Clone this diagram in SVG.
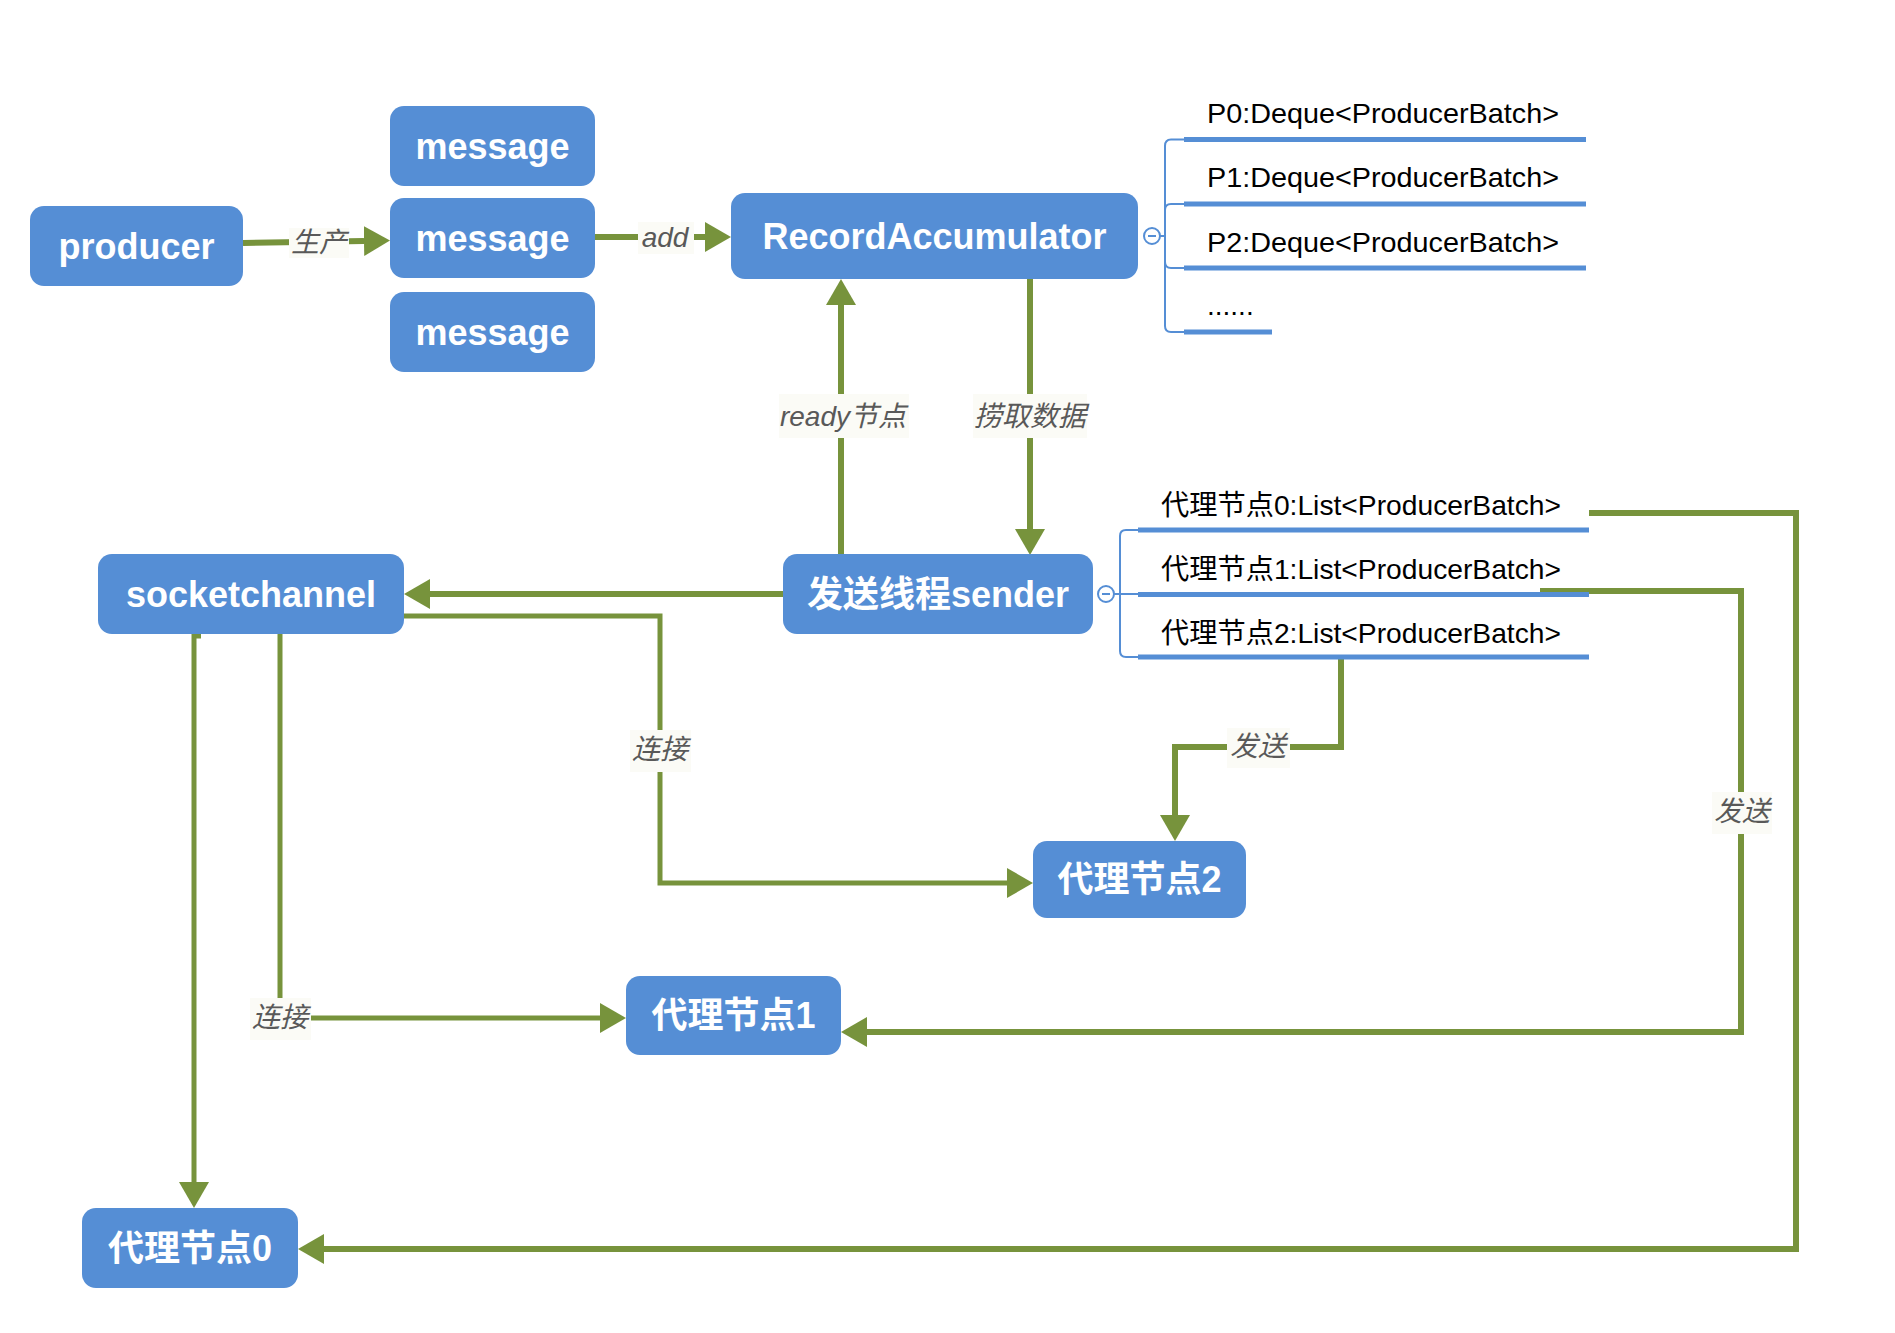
<svg xmlns="http://www.w3.org/2000/svg" width="1895" height="1333" viewBox="0 0 1895 1333">
<defs>
<style>
.node rect{fill:#558ED5;}
.node text{fill:#fff;font-family:"Liberation Sans","Noto Sans CJK SC",sans-serif;font-weight:bold;font-size:36px;text-anchor:middle;}
.conn{fill:none;stroke:#77933C;stroke-width:6;}
.thin{stroke-width:5;}
.lbl{fill:#595959;font-family:"Liberation Sans","Noto Sans CJK SC",sans-serif;font-style:italic;font-size:28px;text-anchor:middle;}
.lblbg{fill:#fbfbf6;}
.item{fill:#000;font-family:"Liberation Sans","Noto Sans CJK SC",sans-serif;font-size:28px;}
.uline{stroke:#558ED5;stroke-width:5;fill:none;}
.br{stroke:#558ED5;stroke-width:2;fill:none;}
.tog{fill:#fff;stroke:#558ED5;stroke-width:2;}
</style>
<marker id="arr" markerUnits="userSpaceOnUse" markerWidth="28" markerHeight="32" viewBox="0 -16 28 32" refX="0" refY="0" orient="auto">
<path d="M0,-15 L26,0 L0,15 z" fill="#77933C"/>
</marker>
</defs>
<rect width="1895" height="1333" fill="#fff"/>

<g id="connectors">
<path class="conn" d="M243,243 L364,241" marker-end="url(#arr)"/>
<path class="conn" d="M595,237 L705,237" marker-end="url(#arr)"/>
<path class="conn" d="M841,554 L841,305" marker-end="url(#arr)"/>
<path class="conn" d="M1030,279 L1030,529" marker-end="url(#arr)"/>
<path class="conn" d="M783,594 L430,594" marker-end="url(#arr)"/>
<path class="conn thin" d="M404,616 H660 V883 H1007" marker-end="url(#arr)"/>
<path class="conn thin" d="M280,634 V1018 H600" marker-end="url(#arr)"/>
<path class="conn thin" d="M201,636 H194 V1182" marker-end="url(#arr)"/>
<path class="conn" d="M1341,658 V747 H1175 V815" marker-end="url(#arr)"/>
<path class="conn" d="M1540,591 H1741 V1032 H867" marker-end="url(#arr)"/>
<path class="conn" d="M1589,513 H1796 V1249 H324" marker-end="url(#arr)"/>

<rect class="lblbg" x="289" y="228" width="60" height="30"/>
<text class="lbl" x="319" y="252">生产</text>
<rect class="lblbg" x="638" y="222" width="56" height="32"/>
<text class="lbl" x="665" y="247">add</text>
<rect class="lblbg" x="779" y="394" width="130" height="44"/>
<text class="lbl" x="843" y="426">ready节点</text>
<rect class="lblbg" x="973" y="394" width="114" height="44"/>
<text class="lbl" x="1030" y="426">捞取数据</text>
<rect class="lblbg" x="630" y="730" width="61" height="42"/>
<text class="lbl" x="660" y="759">连接</text>
<rect class="lblbg" x="250" y="998" width="61" height="42"/>
<text class="lbl" x="280" y="1027">连接</text>
<rect class="lblbg" x="1227" y="728" width="63" height="40"/>
<text class="lbl" x="1258" y="756">发送</text>
<rect class="lblbg" x="1712" y="792" width="60" height="42"/>
<text class="lbl" x="1742" y="821">发送</text>
</g>

<g id="producer" class="node"><rect x="30" y="206" width="213" height="80" rx="14"/><text x="136.5" y="259">producer</text></g>
<g id="message1" class="node"><rect x="390" y="106" width="205" height="80" rx="14"/><text x="492.5" y="159">message</text></g>
<g id="message2" class="node"><rect x="390" y="198" width="205" height="80" rx="14"/><text x="492.5" y="251">message</text></g>
<g id="message3" class="node"><rect x="390" y="292" width="205" height="80" rx="14"/><text x="492.5" y="345">message</text></g>
<g id="recordAccumulator" class="node"><rect x="731" y="193" width="407" height="86" rx="14"/><text x="934.5" y="249">RecordAccumulator</text></g>
<g id="sender" class="node"><rect x="783" y="554" width="310" height="80" rx="14"/><text x="938" y="607">发送线程sender</text></g>
<g id="socketchannel" class="node"><rect x="98" y="554" width="306" height="80" rx="14"/><text x="251" y="607">socketchannel</text></g>
<g id="broker2" class="node"><rect x="1033" y="841" width="213" height="77" rx="14"/><text x="1139.5" y="892">代理节点2</text></g>
<g id="broker1" class="node"><rect x="626" y="976" width="215" height="79" rx="14"/><text x="733.5" y="1028">代理节点1</text></g>
<g id="broker0" class="node"><rect x="82" y="1208" width="216" height="80" rx="14"/><text x="190" y="1261">代理节点0</text></g>

<g id="accumulator-children">
<circle class="tog" cx="1152" cy="236" r="8"/>
<line x1="1148" y1="236" x2="1156" y2="236" stroke="#558ED5" stroke-width="2"/>
<path class="br" d="M1160,236 H1165 V146 Q1165,139.5 1171,139.5 H1184"/>
<path class="br" d="M1165,236 V210 Q1165,204 1171,204 H1184"/>
<path class="br" d="M1165,236 V262 Q1165,268 1171,268 H1184"/>
<path class="br" d="M1165,236 V326 Q1165,332 1171,332 H1184"/>
<line class="uline" x1="1184" y1="139.5" x2="1586" y2="139.5"/>
<line class="uline" x1="1184" y1="204" x2="1586" y2="204"/>
<line class="uline" x1="1184" y1="268" x2="1586" y2="268"/>
<line class="uline" x1="1184" y1="332" x2="1272" y2="332"/>
<text class="item" x="1207" y="123" textLength="352" lengthAdjust="spacingAndGlyphs">P0:Deque&lt;ProducerBatch&gt;</text>
<text class="item" x="1207" y="187" textLength="352" lengthAdjust="spacingAndGlyphs">P1:Deque&lt;ProducerBatch&gt;</text>
<text class="item" x="1207" y="252" textLength="352" lengthAdjust="spacingAndGlyphs">P2:Deque&lt;ProducerBatch&gt;</text>
<text class="item" x="1207" y="315">......</text>
</g>

<g id="sender-children">
<circle class="tog" cx="1106" cy="594" r="8"/>
<line x1="1102" y1="594" x2="1110" y2="594" stroke="#558ED5" stroke-width="2"/>
<path class="br" d="M1114,594 H1120 V536 Q1120,530 1126,530 H1138"/>
<path class="br" d="M1120,594 H1138"/>
<path class="br" d="M1120,594 V651 Q1120,657 1126,657 H1138"/>
<line class="uline" x1="1138" y1="530" x2="1589" y2="530"/>
<line class="uline" x1="1138" y1="594.5" x2="1589" y2="594.5"/>
<line class="uline" x1="1138" y1="657" x2="1589" y2="657"/>
<text class="item" x="1161" y="515" textLength="400" lengthAdjust="spacingAndGlyphs">代理节点0:List&lt;ProducerBatch&gt;</text>
<text class="item" x="1161" y="579" textLength="400" lengthAdjust="spacingAndGlyphs">代理节点1:List&lt;ProducerBatch&gt;</text>
<text class="item" x="1161" y="643" textLength="400" lengthAdjust="spacingAndGlyphs">代理节点2:List&lt;ProducerBatch&gt;</text>
</g>
</svg>
